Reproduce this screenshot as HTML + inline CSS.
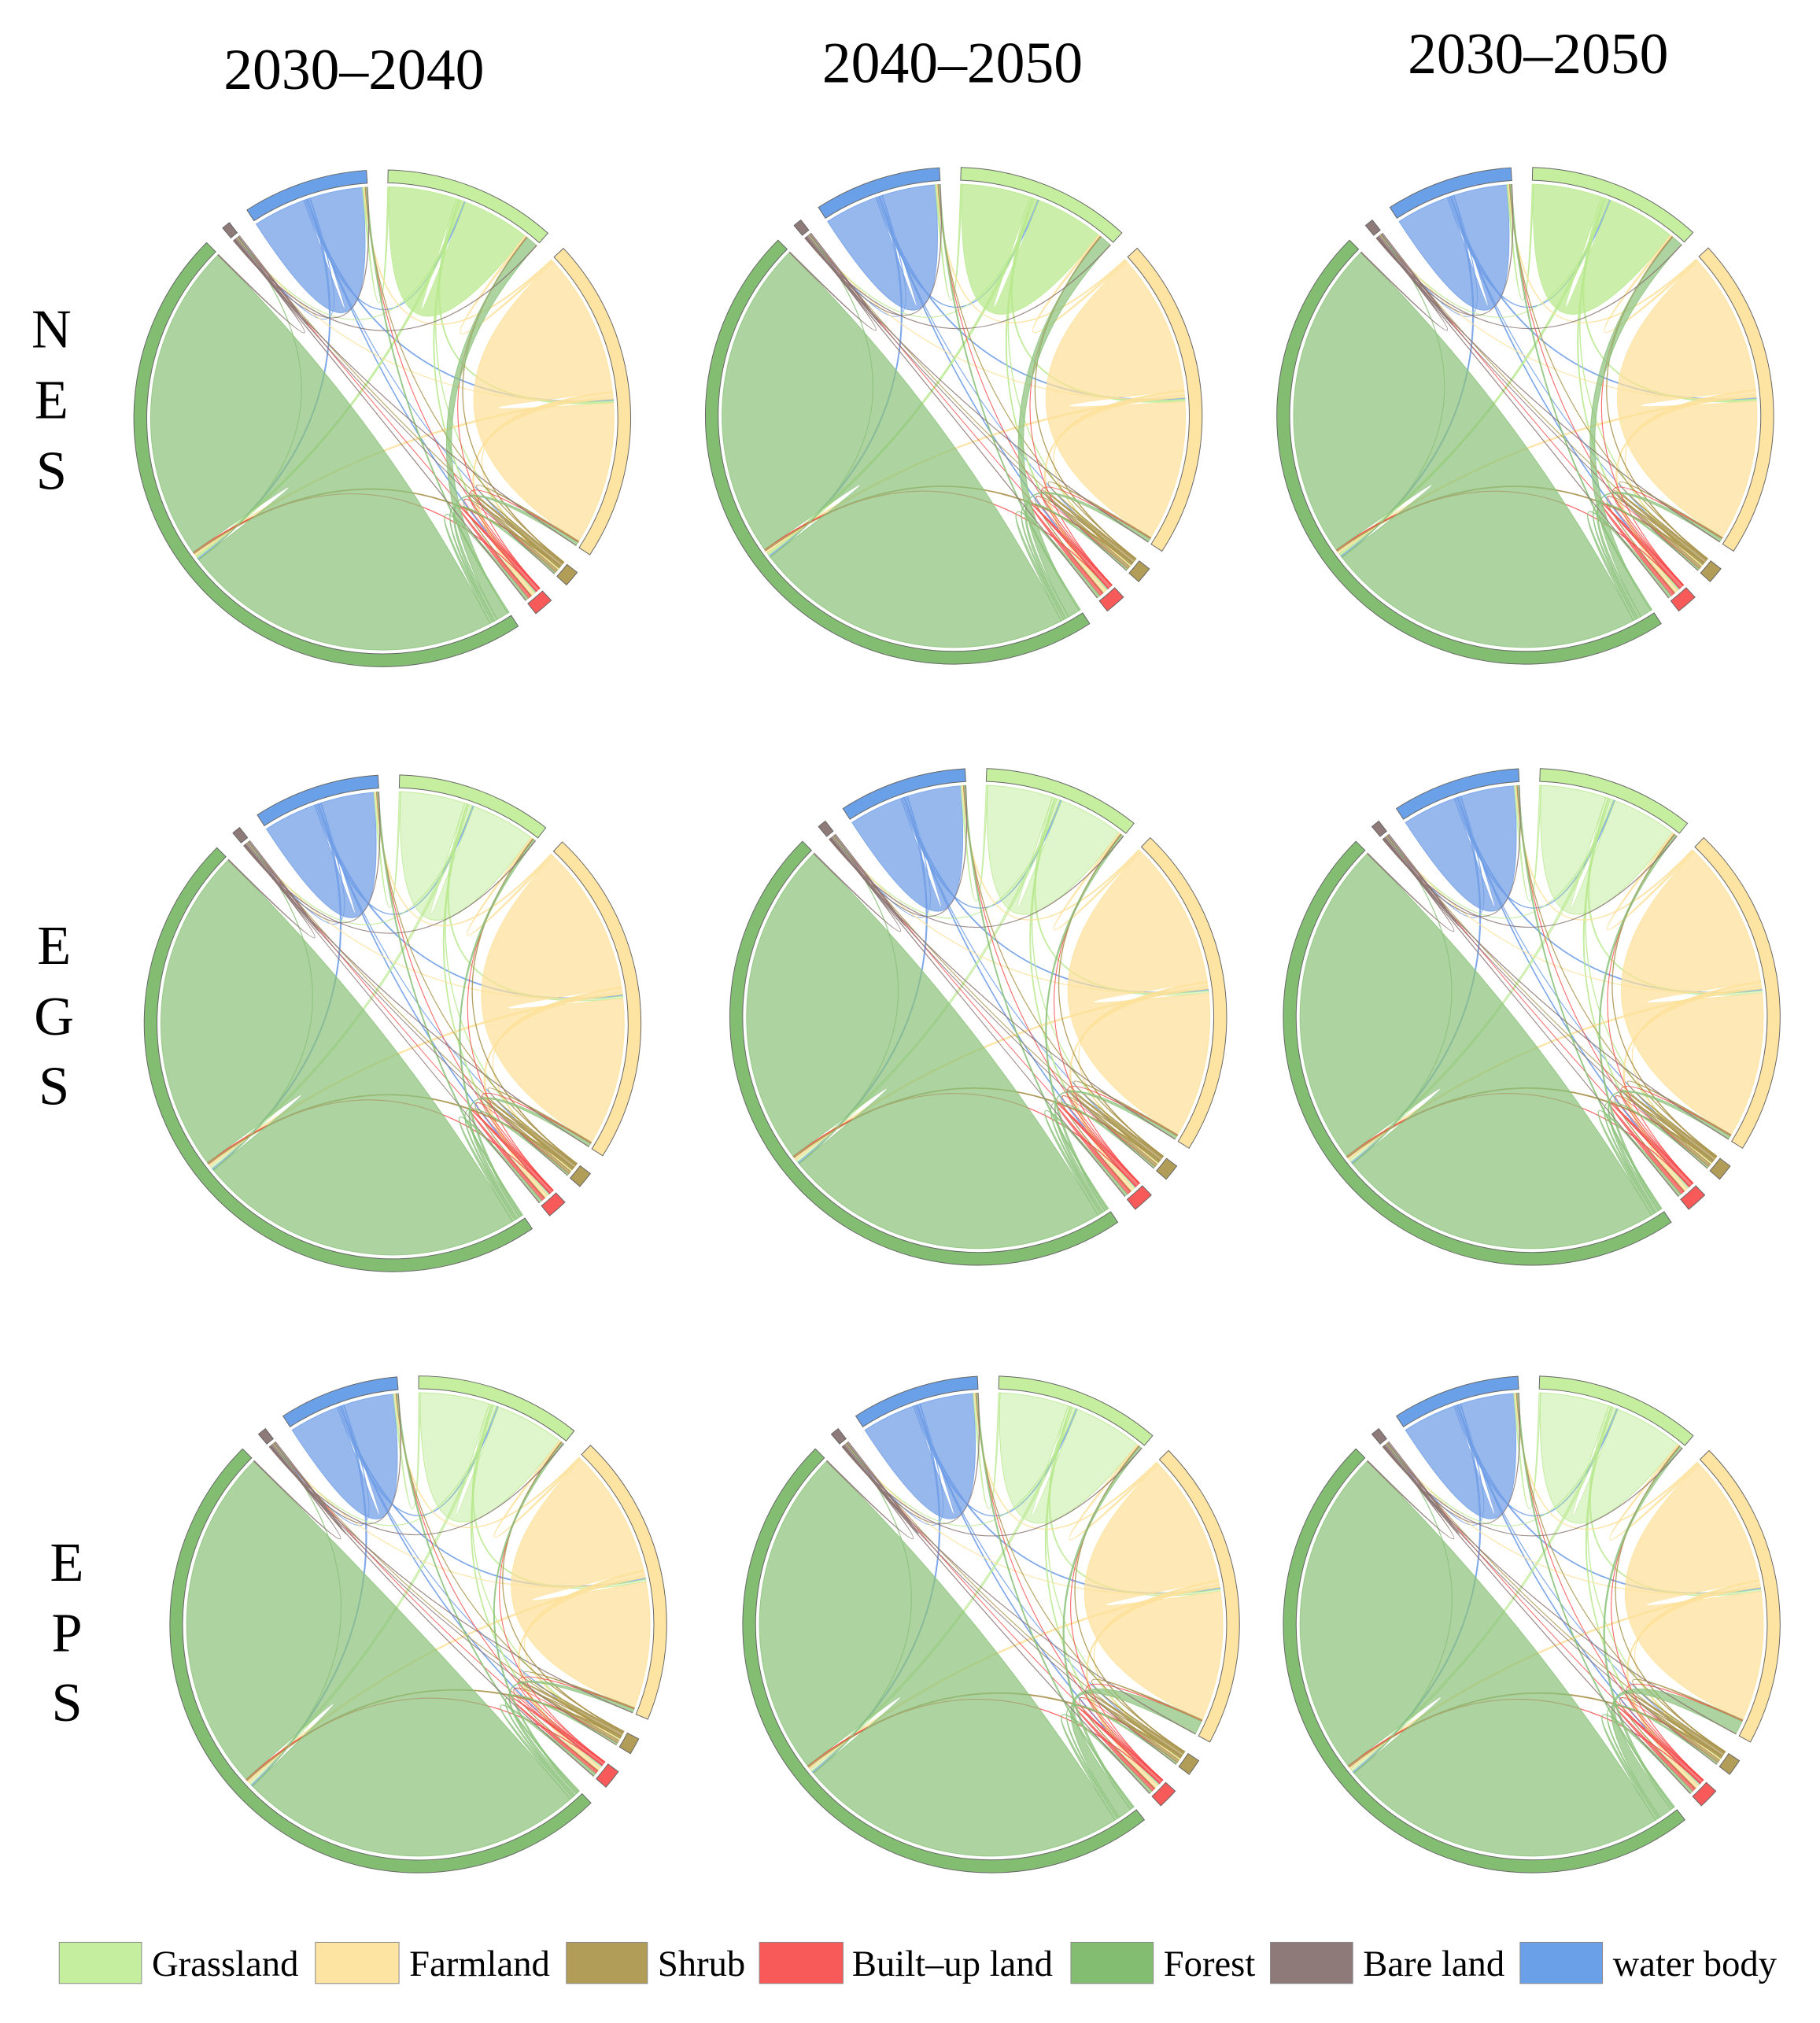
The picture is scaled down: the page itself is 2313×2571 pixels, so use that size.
<!DOCTYPE html>
<html><head><meta charset="utf-8">
<style>
html,body{margin:0;padding:0;background:#fff;}
svg{display:block;}
text{font-family:"Liberation Serif",serif;fill:#000;}
</style></head>
<body>
<svg id="chart" width="2313" height="2571" viewBox="0 0 1414 1571.7" preserveAspectRatio="none" xmlns="http://www.w3.org/2000/svg">
<g font-size="45" text-anchor="middle">
<text x="275" y="69">2030–2040</text>
<text x="740" y="64">2040–2050</text>
<text x="1195" y="57">2030–2050</text>
</g>
<g font-size="43" text-anchor="middle">
<text x="40" y="270">N</text>
<text x="40" y="325">E</text>
<text x="40" y="380">S</text>
<text x="42" y="749">E</text>
<text x="42" y="804">G</text>
<text x="42" y="858">S</text>
<text x="52" y="1228">E</text>
<text x="52" y="1283">P</text>
<text x="52" y="1337">S</text>
</g>
<g id="diagrams"></g>
<g font-size="28.5">
<g><rect x="46" y="1509" width="64" height="32" fill="#c5ee9f" stroke="#888" stroke-width="0.6"/><text x="118" y="1535">Grassland</text></g>
<g><rect x="245" y="1509" width="65" height="32" fill="#fde4a2" stroke="#888" stroke-width="0.6"/><text x="318" y="1535">Farmland</text></g>
<g><rect x="440" y="1509" width="63" height="32" fill="#b19d58" stroke="#888" stroke-width="0.6"/><text x="511" y="1535">Shrub</text></g>
<g><rect x="590" y="1509" width="65" height="32" fill="#f85a5a" stroke="#888" stroke-width="0.6"/><text x="662" y="1535">Built–up land</text></g>
<g><rect x="832" y="1509" width="64" height="32" fill="#82bd72" stroke="#888" stroke-width="0.6"/><text x="904" y="1535">Forest</text></g>
<g><rect x="987" y="1509" width="64" height="32" fill="#8e7a78" stroke="#888" stroke-width="0.6"/><text x="1059" y="1535">Bare land</text></g>
<g><rect x="1181" y="1509" width="64" height="32" fill="#6aa0e8" stroke="#888" stroke-width="0.6"/><text x="1253" y="1535">water body</text></g>
</g>
</svg>
<script>
// categories in clockwise order starting near top
const categories = ["water body","Grassland","Farmland","Shrub","Built-up land","Forest","Bare land"];
const ringColors = ["#6aa0e8","#c5ee9f","#fde4a2","#b19d58","#f85a5a","#82bd72","#8e7a78"];
const ribbonColors = ["#6f9de6","#b9e98e","#fde19a","#a8924a","#f54a4a","#8cc27c","#8a7472"];
const diagramNames = ["nes-2030-2040","nes-2040-2050","nes-2030-2050","egs-2030-2040","egs-2040-2050","egs-2030-2050","eps-2030-2040","eps-2040-2050","eps-2030-2050"];
// self-retention flows per diagram (same order as categories)
const selfFlows = [
 [14,18,38,0.8,0.9,85,0.5],
 [14,18,37,0.8,1.0,84,0.5],
 [14,18,37,0.8,1.0,84,0.5],
 [14,17,39,0.8,0.9,86,0.5],
 [14,17,38,0.8,1.0,85,0.5],
 [14,17,38,0.8,1.0,85,0.5],
 [13,18,33,0.8,0.8,90,0.5],
 [14,18,34,0.8,0.9,86,0.5],
 [14,18,34,0.8,0.9,86,0.5]
];
// shared cross-transition flows (row = from, column = to)
const crossFlows = [
 [0,.4,.4,.1,.3,.5,.1],
 [.4,0,.6,.2,.4,.8,.1],
 [.3,.5,0,.3,1.0,.6,.1],
 [.1,.2,.3,0,.2,.4,.05],
 [.05,.05,.1,.05,0,.1,.02],
 [.4,0,.6,.5,.8,0,.1],
 [.1,.1,.1,.05,.1,.2,0]
];
// forest -> grassland flow per diagram
const forestGrassFlow = [3.2,3.2,3.0,0.6,0.6,0.6,0.5,0.7,0.7];
// forest -> farmland extra flow per diagram
const forestFarmFlow = [0.3,0.3,0.3,0.3,0.3,0.3,0.3,3.0,3.0];
// grassland ribbon opacity per diagram
const grassOpacity = [0.75,0.75,0.75,0.45,0.45,0.45,0.45,0.45,0.45];

const layout = [
 [297,325],[741,323],[1185,323],
 [305,795],[760,790],[1190,790],
 [325,1262],[770,1262],[1190,1262]
];
const R_OUT=193, R_IN=183, R_RIB=180, GAP=5, START=-33;
const NS="http://www.w3.org/2000/svg";
const root=document.getElementById('diagrams');
function pt(cx,cy,r,a){const t=a*Math.PI/180;return [cx+r*Math.sin(t),cy-r*Math.cos(t)];}
function f(p){return p[0].toFixed(2)+","+p[1].toFixed(2);}

diagramNames.forEach((name,d)=>{
  const n=categories.length;
  const M=crossFlows.map((row,i)=>row.map((v,j)=>i===j?selfFlows[d][i]:v));
  M[5][1]+=forestGrassFlow[d];
  M[5][2]+=forestFarmFlow[d];
  const sizes=[];
  for(let i=0;i<n;i++){let s=0;for(let j=0;j<n;j++){s+=M[i][j]+M[j][i];}sizes.push(s);}
  const total=sizes.reduce((a,b)=>a+b,0);
  const k=(360-n*GAP)/total;
  const [cx,cy]=layout[d];
  const g=document.createElementNS(NS,'g');
  
  
  root.appendChild(g);
  const starts=[];let a=START;
  for(let i=0;i<n;i++){starts.push(a);a+=sizes[i]*k+GAP;}
  const outPos=[],inPos=[];
  for(let i=0;i<n;i++){
    let p=starts[i];outPos.push([]);
    for(let j=0;j<n;j++){outPos[i].push([p,p+M[i][j]*k]);p+=M[i][j]*k;}
    inPos.push([]);
    for(let j=0;j<n;j++){inPos[i].push([p,p+M[j][i]*k]);p+=M[j][i]*k;}
  }
  const rg=document.createElementNS(NS,'g');
  
  
  g.appendChild(rg);
  for(let i=0;i<n;i++)for(let j=0;j<n;j++){
    if(M[i][j]<=0)continue;
    const [s1,s2]=outPos[i][j],[t1,t2]=inPos[j][i];
    const r=R_RIB;
    const ls=(s2-s1)>180?1:0,lt=(t2-t1)>180?1:0;
    const dstr="M"+f(pt(cx,cy,r,s1))+" A"+r+","+r+" 0 "+ls+" 1 "+f(pt(cx,cy,r,s2))+
      " Q"+cx+","+cy+" "+f(pt(cx,cy,r,t1))+" A"+r+","+r+" 0 "+lt+" 1 "+f(pt(cx,cy,r,t2))+
      " Q"+cx+","+cy+" "+f(pt(cx,cy,r,s1))+" Z";
    const p=document.createElementNS(NS,'path');
    
    
    p.setAttribute('d',dstr);
    p.setAttribute('fill',ribbonColors[i]);
    p.setAttribute('fill-opacity',i===1?grassOpacity[d]:0.72);
    p.setAttribute('stroke',ribbonColors[i]);
    p.setAttribute('stroke-opacity','0.8');
    p.setAttribute('stroke-width','0.6');
    rg.appendChild(p);
  }
  for(let i=0;i<n;i++){
    const a1=starts[i],a2=starts[i]+sizes[i]*k;
    const L=(a2-a1)>180?1:0;
    const dstr="M"+f(pt(cx,cy,R_OUT,a1))+" A"+R_OUT+","+R_OUT+" 0 "+L+" 1 "+f(pt(cx,cy,R_OUT,a2))+
      " L"+f(pt(cx,cy,R_IN,a2))+" A"+R_IN+","+R_IN+" 0 "+L+" 0 "+f(pt(cx,cy,R_IN,a1))+" Z";
    const p=document.createElementNS(NS,'path');
    
    
    p.setAttribute('d',dstr);
    p.setAttribute('fill',ringColors[i]);
    p.setAttribute('stroke','#666');
    p.setAttribute('stroke-width','0.6');
    g.appendChild(p);
  }
});
</script>
</body></html>
